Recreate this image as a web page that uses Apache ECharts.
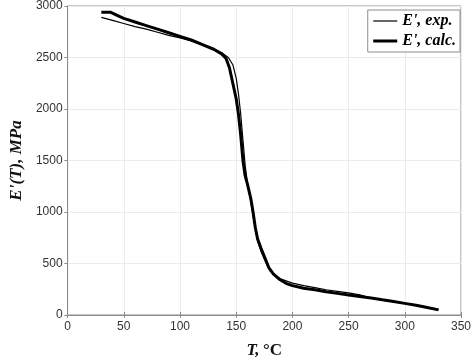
<!DOCTYPE html>
<html>
<head>
<meta charset="utf-8">
<script src="https://cdn.jsdelivr.net/npm/echarts@6/dist/echarts.min.js"></script>
<style>
html,body{margin:0;padding:0;background:#fff;}
#chart{width:474px;height:364px;}
</style>
</head>
<body>
<div id="chart"></div>
<script>
// Experimental curve E'(T), thin line
var expT = [30, 40, 50, 60, 70, 80, 90, 100, 110, 120, 130, 138, 143, 147, 150, 152, 154, 156, 158, 160, 163, 166, 169, 172, 176, 180, 185, 190, 200, 210, 220, 230, 240, 250, 260, 270, 280, 290, 300, 310, 320, 330];
var expE = [2890, 2860, 2830, 2800, 2775, 2745, 2715, 2690, 2660, 2625, 2585, 2540, 2500, 2430, 2300, 2150, 1950, 1700, 1450, 1280, 1100, 900, 720, 620, 520, 430, 380, 350, 310, 285, 265, 245, 230, 215, 195, 165, 145, 130, 115, 95, 75, 55];
// Calculated curve E'(T), thick line
var calcT = [30, 38, 45, 50, 60, 70, 80, 90, 100, 110, 120, 130, 137, 141, 144, 147, 150, 152, 154, 156, 158, 160, 163, 165, 167, 169, 172, 175, 179, 183, 188, 195, 200, 210, 220, 230, 240, 250, 260, 270, 280, 290, 300, 310, 320, 330];
var calcE = [2940, 2940, 2905, 2880, 2845, 2810, 2775, 2740, 2705, 2670, 2625, 2580, 2535, 2490, 2400, 2250, 2100, 1950, 1750, 1500, 1350, 1270, 1130, 1000, 850, 740, 650, 570, 460, 400, 350, 305, 285, 260, 245, 225, 210, 195, 180, 165, 148, 132, 113, 95, 72, 50];
var seriesNames = ["E', exp.", "E', calc."];

function pairs(xs, ys) { return xs.map(function (x, i) { return [x, ys[i]]; }); }
function plain(v) { return String(v); }

var serif = "'Liberation Serif', 'DejaVu Serif', serif";
var sans = "'Liberation Sans', Arial, sans-serif";
var chart = echarts.init(document.getElementById('chart'), null, {renderer: 'canvas'});
chart.setOption({
  animation: false,
  backgroundColor: '#fff',
  grid: {left: 58, right: 12, top: 6, bottom: 39, show: true, borderColor: '#8c8c8c', borderWidth: 1, backgroundColor: 'transparent'},
  legend: {
    orient: 'vertical', right: 14, top: 10,
    backgroundColor: '#fff', borderColor: '#8c8c8c', borderWidth: 1,
    padding: [3, 4, 3, 4], itemGap: 4, itemWidth: 24, itemHeight: 14,
    itemStyle: {opacity: 0},
    textStyle: {fontFamily: serif, fontStyle: 'italic', fontWeight: 'bold', fontSize: 16, color: '#000'},
    data: [
      {name: seriesNames[0], lineStyle: {width: 1.2, color: '#000'}},
      {name: seriesNames[1], lineStyle: {width: 3, color: '#000'}}
    ]
  },
  xAxis: [{
    type: 'value', min: 0, max: 350, interval: 50,
    name: '{i|T,} {u|°C}', nameLocation: 'middle', nameGap: 27,
    nameTextStyle: {rich: {
      i: {fontFamily: serif, fontStyle: 'italic', fontWeight: 'bold', fontSize: 17, color: '#111'},
      u: {fontFamily: serif, fontWeight: 'bold', fontSize: 17, color: '#111'}
    }},
    axisLine: {show: true, lineStyle: {color: '#8c8c8c'}},
    axisTick: {show: true, inside: true, length: 3, lineStyle: {color: '#8c8c8c'}},
    axisLabel: {fontFamily: sans, fontSize: 12, color: '#333', margin: 6, formatter: plain},
    splitLine: {show: true, lineStyle: {color: '#ebebeb'}}
  }, {
    type: 'value', min: 0, max: 350, interval: 50, position: 'top',
    axisLine: {show: false}, axisTick: {show: true, inside: true, length: 3, lineStyle: {color: '#8c8c8c'}},
    axisLabel: {show: false}, splitLine: {show: false}
  }],
  yAxis: [{
    type: 'value', min: 0, max: 3000, interval: 500,
    name: "E'(T), MPa", nameLocation: 'middle', nameGap: 38,
    nameTextStyle: {fontFamily: serif, fontStyle: 'italic', fontWeight: 'bold', fontSize: 17, color: '#111'},
    axisLine: {show: true, lineStyle: {color: '#8c8c8c'}},
    axisTick: {show: true, inside: false, length: 3, lineStyle: {color: '#8c8c8c'}},
    axisLabel: {fontFamily: sans, fontSize: 12, color: '#333', margin: 5, formatter: plain},
    splitLine: {show: true, lineStyle: {color: '#ebebeb'}}
  }, {
    type: 'value', min: 0, max: 3000, interval: 500, position: 'right',
    axisLine: {show: false}, axisTick: {show: true, inside: true, length: 3, lineStyle: {color: '#8c8c8c'}},
    axisLabel: {show: false}, splitLine: {show: false}
  }],
  series: [{
    name: seriesNames[0], type: 'line', showSymbol: false, symbol: 'none',
    lineStyle: {color: '#000', width: 1.2}, itemStyle: {color: '#000'},
    data: pairs(expT, expE), z: 3
  }, {
    name: seriesNames[1], type: 'line', showSymbol: false, symbol: 'none',
    lineStyle: {color: '#000', width: 3}, itemStyle: {color: '#000'},
    data: pairs(calcT, calcE), z: 2
  }]
});
</script>
</body>
</html>
